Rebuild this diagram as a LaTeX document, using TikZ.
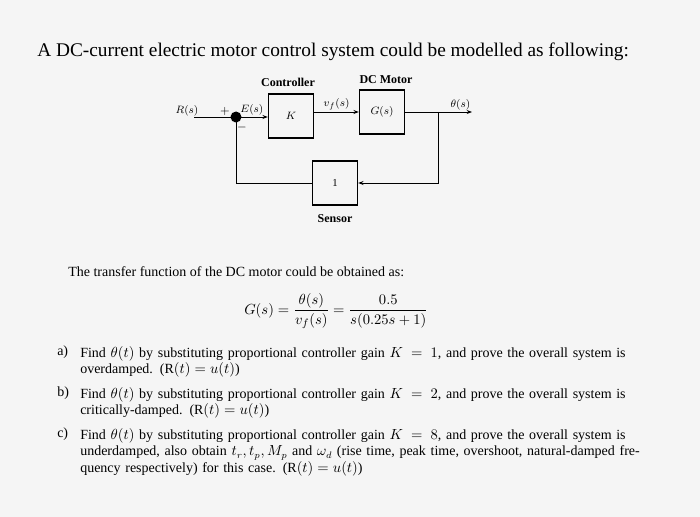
\documentclass[tikz,border=0pt]{standalone}
\usepackage{amsmath}
\usepackage{fontspec}
\setmainfont{Liberation Serif}
\usetikzlibrary{arrows.meta}
\begin{document}
\begin{tikzpicture}[x=0.75pt,y=-0.75pt,
  blk/.style={draw,thick,minimum width=34pt,minimum height=33pt,inner sep=0pt,font=\footnotesize},
  lbl/.style={font=\footnotesize,inner sep=1pt},
  sig/.style={-{Stealth[length=4pt]},semithick},
  txt/.style={anchor=west,inner sep=0pt,font=\fontsize{10.5}{12.5}\selectfont},
  item/.style={anchor=north west,inner sep=0pt,text width=430pt,align=left,font=\fontsize{10.5}{12.5}\selectfont},
  itl/.style={anchor=north west,inner sep=0pt,font=\fontsize{10.5}{12.5}\selectfont}]
\fill[gray!8] (0,0) rectangle (700,517);
\useasboundingbox (0,0) rectangle (700,517);
\node[anchor=west,inner sep=0pt,font=\fontsize{14.5}{16}\selectfont] (title) at (37,52) {A DC-current electric motor control system could be modelled as following:};
\node[blk] (K) at (291,116) {$K$};
\node[blk] (G) at (382,112) {$G(s)$};
\node[blk] (S) at (335,183) {1};
\node[font=\bfseries\small] (lc) at (288,82) {Controller};
\node[font=\bfseries\small] (lm) at (386,80) {DC Motor};
\node[font=\bfseries\small] (ls) at (335,219) {Sensor};
\fill (236,117) circle (5.5) coordinate (sum);
\node[lbl] (R) at (187,111) {$R(s)$};
\coordinate (rin) at (194,117);
\draw[sig] (rin) -- (sum);
\node[font=\small] (plus) at (225,111) {$+$};
\node[font=\small] (minus) at (242,128) {$-$};
\draw[sig] (sum) -- node[lbl,above]{$E(s)$} (K.west|-sum);
\draw[sig] (K.east|-G) -- node[lbl,above]{$v_f(s)$} (G.west);
\coordinate (out) at (472,112);
\coordinate (br) at (438,112);
\draw[sig] (G.east) -- (out) node[lbl,above left]{$\theta(s)$};
\draw[sig] (br) |- (S.east);
\draw[sig] (S.west) -| (sum);
\node[txt] (t1) at (68,272) {The transfer function of the DC motor could be obtained as:};
\node[anchor=west,inner sep=0pt,font=\fontsize{11}{13}\selectfont] (eq) at (244,311) {$G(s)=\dfrac{\theta(s)}{v_f(s)}=\dfrac{0.5}{s(0.25s+1)}$};
\node[itl] (la) at (57,346) {a)};
\node[item] (qa) at (80,346) {Find $\theta(t)$ by substituting proportional controller gain $K=1$, and prove the overall system is overdamped. (R$(t)=u(t)$)};
\node[itl] (lb) at (57,387) {b)};
\node[item] (qb) at (80,387) {Find $\theta(t)$ by substituting proportional controller gain $K=2$, and prove the overall system is critically-damped. (R$(t)=u(t)$)};
\node[itl] (lc2) at (57,428) {c)};
\node[item] (qc) at (80,428) {Find $\theta(t)$ by substituting proportional controller gain $K=8$, and prove the overall system is underdamped, also obtain $t_r,t_p,M_p$ and $\omega_d$ (rise time, peak time, overshoot, natural-damped frequency respectively) for this case. (R$(t)=u(t)$)};
\end{tikzpicture}
\end{document}
